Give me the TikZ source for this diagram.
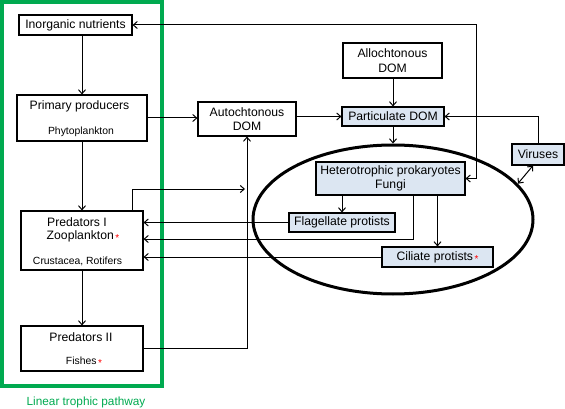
\documentclass[tikz,border=0pt]{standalone}
\usepackage{fontspec}
\setmainfont{Liberation Sans}
\usetikzlibrary{arrows.meta,shapes.geometric}
\definecolor{boxblue}{RGB}{220,230,242}
\definecolor{pathgreen}{RGB}{0,170,80}
\newcommand{\redstar}{\kern1.5pt\raisebox{-2pt}{\textcolor{red}{\fontsize{10}{10}\selectfont *}}}
\tikzset{
  box/.style={draw, line width=1.1pt, inner sep=0pt, align=center, font=\fontsize{12.2}{14.5}\selectfont},
  bbox/.style={box, fill=boxblue},
  maintext/.style={inner sep=0pt, font=\fontsize{12.2}{14}\selectfont},
  subtext/.style={inner sep=0pt, font=\fontsize{10.4}{12}\selectfont},
  arr/.style={line width=1pt, -{Straight Barb[length=4pt,width=7pt]}},
  dblarr/.style={line width=1pt, {Straight Barb[length=4pt,width=7pt]}-{Straight Barb[length=4pt,width=7pt]}}
}
\begin{document}
\begin{tikzpicture}[x=1pt,y=-1pt]
\useasboundingbox (0,0) rectangle (565,409);
% green frame
\node[draw=pathgreen, line width=3.2pt, minimum width=160pt, minimum height=384pt, inner sep=0pt] (green) at (82,194) {};
\node[text=pathgreen, font=\fontsize{11.8}{14}\selectfont, inner sep=0pt] (greenlab) at (86,402) {Linear trophic pathway};
% ellipse
\node[draw, ellipse, line width=3pt, minimum width=280pt, minimum height=149pt, inner sep=0pt] (loop) at (393,219.5) {};
% boxes
\node[box, minimum width=113pt, minimum height=20pt] (nut) at (75.5,25) {Inorganic nutrients};
\node[box, minimum width=130pt, minimum height=46pt] (prim) at (82,118) {};
\node[maintext] (primT) at (79.5,106) {Primary producers};
\node[subtext] (primS) at (81,132) {Phytoplankton};
\node[box, minimum width=122pt, minimum height=59pt] (pred1) at (82,240.5) {};
\node[maintext] (pred1T) at (77,222) {Predators I};
\node[maintext] (pred1Z) at (83,236) {Zooplankton\redstar};
\node[subtext] (pred1S) at (77.5,261) {Crustacea, Rotifers};
\node[box, minimum width=122pt, minimum height=45pt] (pred2) at (82,348.5) {};
\node[maintext] (pred2T) at (81,337) {Predators II};
\node[subtext] (pred2S) at (84,362) {Fishes\redstar};
\node[box, minimum width=98pt, minimum height=34pt] (auto) at (247,119) {Autochtonous\\DOM};
\node[box, minimum width=99pt, minimum height=35pt] (allo) at (392.5,60.5) {Allochtonous\\DOM};
\node[bbox, minimum width=102pt, minimum height=19pt] (part) at (393,116.5) {Particulate DOM};
\node[bbox, minimum width=149pt, minimum height=33pt, font=\fontsize{12.2}{14}\selectfont] (het) at (390.5,178.5) {Heterotrophic prokaryotes\\Fungi};
\node[bbox, minimum width=106pt, minimum height=19pt] (flag) at (342,222.5) {Flagellate protists};
\node[bbox, minimum width=111pt, minimum height=20pt] (cil) at (437.5,257) {Ciliate protists\redstar};
\node[bbox, minimum width=52pt, minimum height=21pt] (vir) at (538,154.5) {Viruses};
\coordinate (c1) at (245,189);
% connectors
\draw[arr] (prim.north |- nut.south) -- (prim.north);
\draw[arr] (prim.south) -- (pred1.north);
\draw[arr] (pred1.south) -- (pred2.north);
\draw[arr] (prim.east) -- (prim.east -| auto.west);
\draw[arr] (auto.east |- part.west) -- (part.west);
\draw[arr] (part.north |- allo.south) -- (part.north);
\draw[arr] (part.south) -- (loop.north);
\draw[dblarr] (het.east) -- ++(11,0) |- (nut.east);
\draw[arr] (vir.north) |- (part.east);
\draw[dblarr] ([xshift=-5pt]vir.south) -- (loop.16.7);
\draw[arr] (flag.north |- het.south) -- (flag.north);
\draw[arr] (cil.north |- het.south) -- (cil.north);
\draw[arr] ([xshift=22.5pt]het.south) |- (pred1.east |- 0,239);
\draw[arr] (flag.west) -- (flag.west -| pred1.east);
\draw[arr] (cil.west) -- (cil.west -| pred1.east);
\draw[arr] (pred2.east) -| (auto.south);
\draw[arr] ([xshift=50pt]pred1.north) |- (c1);
\end{tikzpicture}
\end{document}
